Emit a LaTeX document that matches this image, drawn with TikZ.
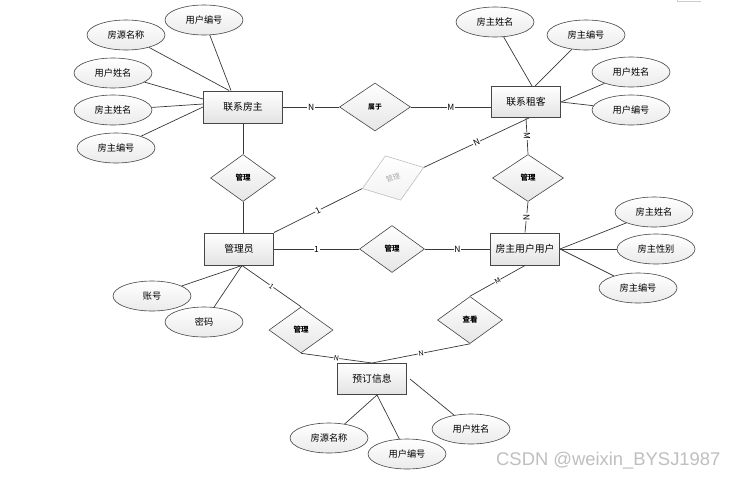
\documentclass[tikz,border=0pt]{standalone}
\usepackage{fontspec}
\setmainfont{Noto Sans CJK SC}
\newfontfamily\wmfont{Liberation Sans}
\usetikzlibrary{shapes.geometric,calc}
\begin{document}
\begin{tikzpicture}[x=1pt,y=-1pt,
  ent/.style={draw=gray!55!black, line width=1pt, top color=white, bottom color=gray!22,
    minimum width=69pt, minimum height=31pt, inner sep=0pt, font=\fontsize{9.8}{10}\selectfont},
  attr/.style={ellipse, draw=gray!55!black, line width=0.6pt, top color=white, bottom color=gray!16,
    minimum width=78pt, minimum height=30pt, inner sep=0pt, font=\fontsize{9.2}{10}\selectfont},
  rel/.style={diamond, draw=gray!55!black, line width=0.6pt, top color=white, bottom color=gray!20,
    minimum width=65pt, minimum height=47pt, inner sep=0pt, font=\bfseries\fontsize{7.5}{8}\selectfont},
  conn/.style={draw=gray!45!black, line width=0.7pt},
  lab/.style={fill=white, inner sep=0.6pt, font=\fontsize{8.5}{9}\selectfont},
  slab/.style={fill=white, inner sep=0.4pt, font=\fontsize{7}{7}\selectfont}]
\useasboundingbox (0,0) rectangle (736,477);
\fill[white] (0,0) rectangle (736,477);
\draw[gray!40, line width=0.5pt] (677,0) -- (677,1.5) -- (701,1.5);

% entities
\node[ent, minimum width=79pt, minimum height=32pt] (lfz) at (243,107) {联系房主};
\node[ent] (lzk) at (526,102) {联系租客};
\node[ent, minimum height=32pt] (gly) at (239,249) {管理员};
\node[ent, minimum height=32pt] (fzyh) at (525,249) {房主用户用户};
\node[ent] (ydxx) at (372,379) {预订信息};

% relations
\node[rel, minimum width=71pt, minimum height=48pt, font=\bfseries\fontsize{6.8}{7}\selectfont] (r1) at (375,107) {属于};
\node[rel] (r2) at (243,178) {管理};
\node[rel, rotate=19, draw=gray!50, bottom color=gray!10, text=gray!65, font=\fontsize{7.2}{8}\selectfont] (r3) at (393,178) {管理};
\node[rel, minimum width=71pt] (r4) at (528,178) {管理};
\node[rel] (r5) at (392,249) {管理};
\node[rel, minimum width=64pt, minimum height=46pt] (r6) at (301,330) {管理};
\node[rel] (r7) at (470,320) {查看};

% attributes
\node[attr] (a1) at (204,20) {用户编号};
\node[attr] (a2) at (126,35) {房源名称};
\node[attr] (a3) at (113,73) {用户姓名};
\node[attr] (a4) at (113,110) {房主姓名};
\node[attr] (a5) at (116,148) {房主编号};
\node[attr] (b1) at (495,22) {房主姓名};
\node[attr] (b2) at (586,35) {房主编号};
\node[attr] (b3) at (631,72) {用户姓名};
\node[attr] (b4) at (631,110) {用户编号};
\node[attr] (c1) at (654,212) {房主姓名};
\node[attr] (c2) at (656,249) {房主性别};
\node[attr] (c3) at (638,288) {房主编号};
\node[attr] (d1) at (329,438) {房源名称};
\node[attr] (d2) at (407,454) {用户编号};
\node[attr] (d3) at (471,429) {用户姓名};
\node[attr] (e1) at (152,296) {账号};
\node[attr] (e2) at (204,322) {密码};

% helper points
\coordinate (gs) at ($(gly.south)+(3,0)$);
\coordinate (ys) at ($(ydxx.south)+(5,0)$);

% attribute connectors
\draw[conn] (a1) -- ($(lfz.north)+(-12,0)$);
\draw[conn] (a2) -- ($(lfz.north)+(-14,0)$);
\draw[conn] (a3) -- ($(lfz.west)+(0,-8)$);
\draw[conn] (a4) -- ($(lfz.west)+(0,-3)$);
\draw[conn] (a5) -- (lfz.west);
\draw[conn] (b1) -- ($(lzk.north)+(6,0)$);
\draw[conn] (b2) -- ($(lzk.north)+(9,0)$);
\draw[conn] (b3) -- (lzk.east);
\draw[conn] (b4) -- (lzk.east);
\draw[conn] (c1) -- (fzyh.east);
\draw[conn] (c2) -- (fzyh.east);
\draw[conn] (c3) -- (fzyh.east);
\draw[conn] (d1) -- (ys);
\draw[conn] (d2) -- (ys);
\draw[conn] (d3) -- ($(ydxx.east)+(3,0)$);
\draw[conn] (e1) -- (gs);
\draw[conn] (e2) -- (gs);

% relation connectors
\draw[conn] (lfz.east) -- node[lab]{N} (r1.west);
\draw[conn] (r1.east) -- node[lab]{M} (r1.east -| lzk.west);
\draw[conn] (lfz.south) -- (r2.north);
\draw[conn] (r2.south) -- (r2.south |- gly.north);
\draw[conn] (gly.north east) -- node[lab, sloped]{1} (r3.west);
\draw[conn] (r3.east) -- node[lab, sloped]{N} ($(lzk.south)+(3,0)$);
\draw[conn] (lzk.south) -- node[lab, rotate=-90]{M} (r4.north);
\draw[conn] (r4.south) -- node[lab, rotate=-90]{N} (fzyh.north);
\draw[conn] (gly.east) -- node[lab]{1} (r5.west);
\draw[conn] (r5.east) -- node[lab]{N} (fzyh.west);
\draw[conn] (gs) -- node[slab, sloped]{1} (r6.north);
\draw[conn] (r6.south) -- node[slab, sloped]{N} (ydxx.north);
\draw[conn] (ydxx.north) -- node[slab, sloped]{N} (r7.south);
\draw[conn] (r7.north) -- node[slab, sloped]{M} (fzyh.south);

% watermark
\node[anchor=base west, inner sep=0pt, text=gray!50, font=\wmfont\fontsize{18.4}{19}\selectfont] (wm) at (496,465) {CSDN @weixin\_BYSJ1987};
\end{tikzpicture}
\end{document}
